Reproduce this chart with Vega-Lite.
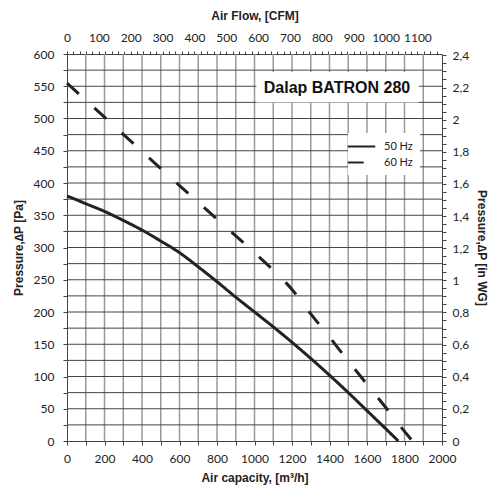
{
  "$schema": "https://vega.github.io/schema/vega-lite/v6.json",
  "autosize": "none",
  "width": 375,
  "height": 387,
  "padding": {"left": 67, "top": 54, "right": 58, "bottom": 59},
  "background": "white",
  "config": {
    "view": {"stroke": "#444", "strokeWidth": 1},
    "axis": {
      "labelFont": "Lato",
      "labelFontSize": 12,
      "labelColor": "#222",
      "titleFont": "Liberation Sans",
      "titleFontWeight": "bold",
      "titleFontSize": 12,
      "titleColor": "#222",
      "domain": false,
      "grid": false,
      "tickColor": "#444",
      "labelFlush": false,
      "labelOverlap": false
    }
  },
  "layer": [
    {
      "data": {"values": [{"g": 100}, {"g": 200}, {"g": 300}, {"g": 400}, {"g": 500}, {"g": 600}, {"g": 700}, {"g": 800}, {"g": 900}, {"g": 1000}, {"g": 1100}, {"g": 1200}, {"g": 1300}, {"g": 1400}, {"g": 1500}, {"g": 1600}, {"g": 1700}, {"g": 1800}, {"g": 1900}]},
      "mark": {"type": "rule", "color": "#999", "strokeWidth": 1.5},
      "encoding": {
        "x": {"field": "g", "type": "quantitative", "scale": {"domain": [0, 2000], "nice": false}, "axis": null}
      }
    },
    {
      "data": {"values": [{"g": 25}, {"g": 50}, {"g": 75}, {"g": 100}, {"g": 125}, {"g": 150}, {"g": 175}, {"g": 200}, {"g": 225}, {"g": 250}, {"g": 275}, {"g": 300}, {"g": 325}, {"g": 350}, {"g": 375}, {"g": 400}, {"g": 425}, {"g": 450}, {"g": 475}, {"g": 500}, {"g": 525}, {"g": 550}, {"g": 575}]},
      "mark": {"type": "rule", "color": "#444", "strokeWidth": 1},
      "encoding": {
        "y": {"field": "g", "type": "quantitative", "scale": {"domain": [0, 600], "nice": false}, "axis": null}
      }
    },
    {
      "data": {
        "values": [
          {"m3h": 0, "pa": 380, "freq": "50 Hz"},
          {"m3h": 100, "pa": 368, "freq": "50 Hz"},
          {"m3h": 200, "pa": 356, "freq": "50 Hz"},
          {"m3h": 300, "pa": 342, "freq": "50 Hz"},
          {"m3h": 400, "pa": 327, "freq": "50 Hz"},
          {"m3h": 500, "pa": 310, "freq": "50 Hz"},
          {"m3h": 600, "pa": 292, "freq": "50 Hz"},
          {"m3h": 700, "pa": 270, "freq": "50 Hz"},
          {"m3h": 800, "pa": 247, "freq": "50 Hz"},
          {"m3h": 900, "pa": 223, "freq": "50 Hz"},
          {"m3h": 1000, "pa": 200, "freq": "50 Hz"},
          {"m3h": 1100, "pa": 177, "freq": "50 Hz"},
          {"m3h": 1200, "pa": 153, "freq": "50 Hz"},
          {"m3h": 1300, "pa": 128, "freq": "50 Hz"},
          {"m3h": 1400, "pa": 102, "freq": "50 Hz"},
          {"m3h": 1500, "pa": 75, "freq": "50 Hz"},
          {"m3h": 1600, "pa": 47, "freq": "50 Hz"},
          {"m3h": 1700, "pa": 19, "freq": "50 Hz"},
          {"m3h": 1767, "pa": 0, "freq": "50 Hz"},
          {"m3h": 0, "pa": 555, "freq": "60 Hz"},
          {"m3h": 200, "pa": 502, "freq": "60 Hz"},
          {"m3h": 400, "pa": 449, "freq": "60 Hz"},
          {"m3h": 600, "pa": 396, "freq": "60 Hz"},
          {"m3h": 800, "pa": 344, "freq": "60 Hz"},
          {"m3h": 1000, "pa": 292, "freq": "60 Hz"},
          {"m3h": 1100, "pa": 265, "freq": "60 Hz"},
          {"m3h": 1200, "pa": 235, "freq": "60 Hz"},
          {"m3h": 1300, "pa": 197, "freq": "60 Hz"},
          {"m3h": 1400, "pa": 161, "freq": "60 Hz"},
          {"m3h": 1500, "pa": 124, "freq": "60 Hz"},
          {"m3h": 1600, "pa": 88, "freq": "60 Hz"},
          {"m3h": 1700, "pa": 52, "freq": "60 Hz"},
          {"m3h": 1800, "pa": 15, "freq": "60 Hz"},
          {"m3h": 1842, "pa": 0, "freq": "60 Hz"}
        ]
      },
      "mark": {"type": "line", "interpolate": "monotone", "strokeWidth": 3, "color": "#222", "strokeCap": "butt"},
      "encoding": {
        "x": {
          "field": "m3h",
          "type": "quantitative",
          "scale": {"domain": [0, 2000], "nice": false},
          "axis": {
            "orient": "bottom",
            "title": "Air capacity, [m³/h]",
            "values": [0, 100, 200, 300, 400, 500, 600, 700, 800, 900, 1000, 1100, 1200, 1300, 1400, 1500, 1600, 1700, 1800, 1900, 2000],
            "format": "d",
            "labelExpr": "datum.value % 200 == 0 ? datum.label : ''",
            "tickSize": 4,
            "labelPadding": 8,
            "titlePadding": 8
          }
        },
        "y": {
          "field": "pa",
          "type": "quantitative",
          "scale": {"domain": [0, 600], "nice": false},
          "axis": {
            "orient": "left",
            "title": "Pressure,∆P [Pa]",
            "values": [0, 25, 50, 75, 100, 125, 150, 175, 200, 225, 250, 275, 300, 325, 350, 375, 400, 425, 450, 475, 500, 525, 550, 575, 600],
            "format": "d",
            "labelExpr": "datum.value % 50 == 0 ? datum.label : ''",
            "tickSize": 4,
            "labelPadding": 9,
            "titlePadding": 8
          }
        },
        "strokeDash": {
          "field": "freq",
          "type": "nominal",
          "scale": {"domain": ["50 Hz", "60 Hz"], "range": [[1, 0], [16, 21]]},
          "legend": {
            "title": null,
            "orient": "none",
            "legendX": 281,
            "legendY": 79,
            "fillColor": "white",
            "padding": 7,
            "symbolType": "M-2.5,0H2.5",
            "symbolSize": 121,
            "symbolStrokeColor": "#222",
            "symbolStrokeWidth": 2,
            "labelFont": "Lato",
            "labelFontSize": 11,
            "labelColor": "#222",
            "labelOffset": 16,
            "rowPadding": 4,
            "encode": {
              "symbols": {
                "update": {
                  "strokeDash": {"signal": "datum.label === '60 Hz' ? [8, 5] : [1, 0]"}
                }
              }
            }
          }
        }
      }
    },
    {
      "data": {"values": [{"label": "Dalap BATRON 280"}]},
      "mark": {"type": "rect", "fill": "white"},
      "encoding": {
        "x": {"datum": 1010, "type": "quantitative", "scale": {"domain": [0, 2000], "nice": false}, "axis": null},
        "x2": {"datum": 1877},
        "y": {"datum": 572, "type": "quantitative", "scale": {"domain": [0, 600], "nice": false}, "axis": null},
        "y2": {"datum": 525}
      }
    },
    {
      "data": {"values": [{"label": "Dalap BATRON 280"}]},
      "mark": {"type": "text", "font": "Liberation Sans", "fontWeight": "bold", "fontSize": 16, "color": "#111", "align": "center", "baseline": "middle"},
      "encoding": {
        "x": {"datum": 1440, "type": "quantitative", "scale": {"domain": [0, 2000], "nice": false}, "axis": null},
        "y": {"datum": 548, "type": "quantitative", "scale": {"domain": [0, 600], "nice": false}, "axis": null},
        "text": {"field": "label"}
      }
    },
    {
      "data": {"values": [{"cfm": 0, "inwg": 0}, {"cfm": 1177.2, "inwg": 2.4087}]},
      "mark": {"type": "point", "opacity": 0},
      "encoding": {
        "x": {
          "field": "cfm",
          "type": "quantitative",
          "scale": {"domain": [0, 1177.2], "nice": false},
          "axis": {
            "orient": "top",
            "title": "Air Flow, [CFM]",
            "values": [0, 20, 40, 60, 80, 100, 120, 140, 160, 180, 200, 220, 240, 260, 280, 300, 320, 340, 360, 380, 400, 420, 440, 460, 480, 500, 520, 540, 560, 580, 600, 620, 640, 660, 680, 700, 720, 740, 760, 780, 800, 820, 840, 860, 880, 900, 920, 940, 960, 980, 1000, 1020, 1040, 1060, 1080, 1100, 1120, 1140, 1160],
            "format": "d",
            "labelExpr": "datum.value % 100 == 0 ? datum.label : ''",
            "tickSize": 3,
            "labelPadding": 7,
            "titlePadding": 9
          }
        },
        "y": {
          "field": "inwg",
          "type": "quantitative",
          "scale": {"domain": [0, 2.4087], "nice": false},
          "axis": {
            "orient": "right",
            "title": "Pressure,∆P [in WG]",
            "values": [0, 0.05, 0.1, 0.15, 0.2, 0.25, 0.3, 0.35, 0.4, 0.45, 0.5, 0.55, 0.6, 0.65, 0.7, 0.75, 0.8, 0.85, 0.9, 0.95, 1, 1.05, 1.1, 1.15, 1.2, 1.25, 1.3, 1.35, 1.4, 1.45, 1.5, 1.55, 1.6, 1.65, 1.7, 1.75, 1.8, 1.85, 1.9, 1.95, 2, 2.05, 2.1, 2.15, 2.2, 2.25, 2.3, 2.35, 2.4],
            "labelExpr": "round(datum.value * 100) % 20 == 0 ? replace(format(datum.value, '~g'), '.', ',') : ''",
            "tickSize": 4,
            "labelPadding": 6,
            "titlePadding": 6
          }
        }
      }
    }
  ],
  "resolve": {"scale": {"x": "independent", "y": "independent"}}
}
